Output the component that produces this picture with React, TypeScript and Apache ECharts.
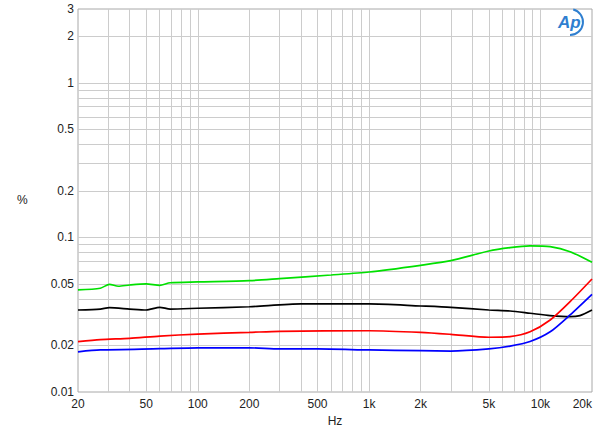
import React, { useEffect, useRef } from "react";
import * as echarts from "echarts";

const greenFreq = [20, 27, 30.5, 34.4, 40, 50, 60, 69, 100, 200, 300, 600, 1000, 2000, 3000, 5000, 6650, 8700, 11400, 14900, 20000];
const greenVals = [0.0457, 0.0469, 0.0497, 0.0483, 0.0492, 0.05, 0.049, 0.0509, 0.0515, 0.0525, 0.0541, 0.0571, 0.0597, 0.066, 0.0707, 0.0817, 0.0858, 0.088, 0.0871, 0.0808, 0.069];

const blackFreq = [20, 27, 30.5, 40, 50, 60, 69, 100, 200, 400, 1000, 2000, 3000, 5000, 6650, 8700, 11400, 14900, 17000, 20000];
const blackVals = [0.0339, 0.0344, 0.0351, 0.0344, 0.0339, 0.0353, 0.0344, 0.0348, 0.0356, 0.0371, 0.0371, 0.036, 0.0353, 0.0339, 0.0334, 0.0323, 0.0312, 0.0307, 0.0312, 0.0339];

const redFreq = [20, 27, 40, 60, 100, 200, 300, 1000, 2000, 3000, 5000, 6650, 8700, 11400, 14900, 20000];
const redVals = [0.0212, 0.0218, 0.02225, 0.023, 0.0237, 0.0243, 0.0247, 0.0249, 0.0243, 0.0236, 0.0226, 0.0228, 0.0245, 0.0292, 0.0384, 0.0538];

const blueFreq = [20, 27, 60, 100, 200, 300, 500, 1000, 2000, 3000, 5000, 6650, 8700, 11400, 14900, 20000];
const blueVals = [0.0182, 0.0187, 0.01905, 0.0193, 0.0193, 0.019, 0.019, 0.0187, 0.0185, 0.0184, 0.019, 0.0198, 0.0212, 0.0245, 0.0315, 0.0428];

const xTickLabels = [20, 50, 100, 200, 500, 1000, 2000, 5000, 10000, 20000];
const yTickLabels = [0.01, 0.02, 0.05, 0.1, 0.2, 0.5, 1, 2, 3];
const xGrid = [30, 40, 50, 60, 70, 80, 90, 100, 200, 300, 400, 500, 600, 700, 800, 900, 1000, 2000, 3000, 4000, 5000, 6000, 7000, 8000, 9000, 10000];
const yGrid = [0.02, 0.03, 0.04, 0.05, 0.06, 0.07, 0.08, 0.09, 0.1, 0.2, 0.3, 0.4, 0.5, 0.6, 0.7, 0.8, 0.9, 1, 2];

const zip = (xs: number[], ys: number[]) => xs.map((x, i) => [x, ys[i]]);

export default function App() {
  const ref = useRef<HTMLDivElement>(null);
  useEffect(() => {
    if (!ref.current) return;
    const chart = echarts.init(ref.current, null, { renderer: "svg" });
    const font = "Liberation Sans";
    const lineSeries = (name: string, data: number[][], color: string) => ({
      name,
      type: "line",
      data,
      smooth: 0.25,
      showSymbol: false,
      lineStyle: { color, width: 1.7 },
      z: 5,
    });
    chart.setOption({
      animation: false,
      backgroundColor: "#ffffff",
      grid: {
        left: 78,
        right: 8,
        top: 9,
        bottom: 36,
        containLabel: false,
        outerBoundsMode: "none",
        show: true,
        borderColor: "#a8a8a8",
        borderWidth: 1,
      },
      xAxis: {
        type: "log",
        logBase: 10,
        min: 20,
        max: 20000,
        name: "Hz",
        nameLocation: "middle",
        nameGap: 22,
        nameTextStyle: { fontFamily: font, fontSize: 12, color: "#222" },
        axisLine: { show: false },
        axisTick: { show: false },
        splitLine: { show: false },
        axisLabel: {
          customValues: xTickLabels,
          fontFamily: font,
          fontSize: 12,
          color: "#222",
          margin: 6,
          alignMaxLabel: "right",
          formatter: (v: number) => (v >= 1000 ? v / 1000 + "k" : String(v)),
        },
      },
      yAxis: {
        type: "log",
        logBase: 10,
        min: 0.01,
        max: 3,
        axisLine: { show: false },
        axisTick: { show: false },
        splitLine: { show: false },
        axisLabel: {
          customValues: yTickLabels,
          fontFamily: font,
          fontSize: 12,
          color: "#222",
          margin: 4,
          formatter: (v: number) => String(v),
        },
      },
      graphic: [
        { type: "text", left: 17, top: 194, style: { text: "%", font: "12px Liberation Sans", fill: "#222" } },
        { type: "text", x: 558, y: 14, style: { text: "Ap", font: "italic bold 17px Liberation Sans", fill: "#2f7fd0" } },
        { type: "arc", shape: { cx: 570, cy: 22, r: 13, startAngle: -Math.PI * 0.42, endAngle: Math.PI * 0.5 }, style: { stroke: "#2f7fd0", lineWidth: 2, fill: "none" } },
      ],
      series: [
        {
          type: "line",
          data: [],
          silent: true,
          markLine: {
            silent: true,
            symbol: "none",
            label: { show: false },
            lineStyle: { color: "#cccccc", width: 1, type: "solid" },
            data: [
              ...xGrid.map((v) => ({ xAxis: v })),
              ...yGrid.map((v) => ({ yAxis: v })),
            ],
          },
          z: 1,
        },
        lineSeries("green", zip(greenFreq, greenVals), "#00e000"),
        lineSeries("black", zip(blackFreq, blackVals), "#000000"),
        lineSeries("red", zip(redFreq, redVals), "#ff0000"),
        lineSeries("blue", zip(blueFreq, blueVals), "#0000ff"),
      ],
    });
    return () => chart.dispose();
  }, []);
  return <div ref={ref} style={{ width: 600, height: 428, position: "absolute", left: 0, top: 0 }} />;
}
